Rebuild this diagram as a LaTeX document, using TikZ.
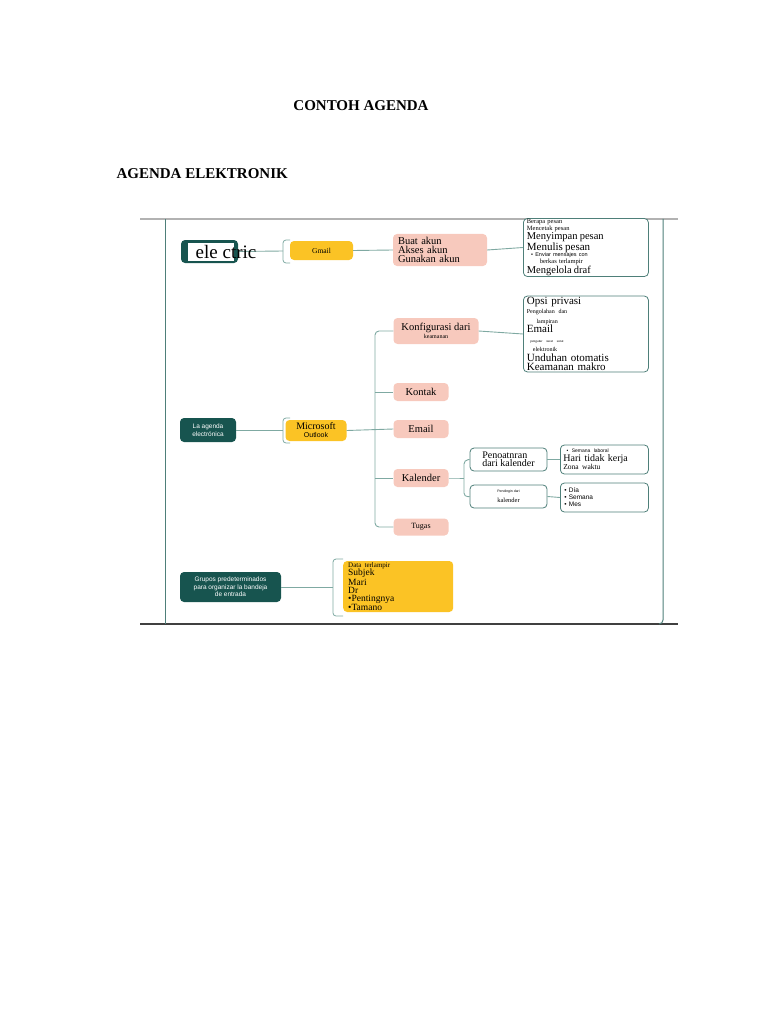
\documentclass[tikz,border=0pt]{standalone}
\usepackage{fontspec}
\setmainfont{Liberation Serif}
\newfontfamily\sans{Liberation Sans}
\definecolor{dk}{HTML}{17544F}
\definecolor{yl}{HTML}{FBC325}
\definecolor{pk}{HTML}{F7C9BD}
\definecolor{ln}{HTML}{7FA9A2}
\definecolor{bd}{HTML}{4E7F79}
\begin{document}
\begin{tikzpicture}[x=1pt,y=-1pt,
 box/.style={rounded corners=4pt,inner sep=1pt,align=center},
 dkb/.style={box,fill=dk,text=white,font=\sans\fontsize{6.5}{7.5}\selectfont},
 ylb/.style={box,fill=yl,font=\fontsize{9}{9}\selectfont},
 pkb/.style={box,fill=pk,font=\fontsize{10.5}{10.5}\selectfont},
 wtb/.style={box,draw=bd,line width=0.8pt,fill=white,align=left,font=\fontsize{9}{9}\selectfont},
 con/.style={draw=ln,line width=0.9pt},
 brk/.style={draw=ln,line width=0.8pt,rounded corners=3pt}]
\useasboundingbox (0,0) rectangle (768,1024);
\node[font=\bfseries\fontsize{15}{15}\selectfont] (t1) at (361,106) {CONTOH AGENDA};
\node[font=\bfseries\fontsize{15}{15}\selectfont,anchor=west] (t2) at (113,174) {AGENDA ELEKTRONIK};
% frame
\draw[gray!60,line width=1.5pt] (140,219) -- (678,219);
\draw[black!75,line width=1.5pt] (140,624) -- (678,624);
\draw[bd,line width=1pt] (165,219) -- (165,624);
\draw[bd,line width=1pt] (663,219) -- (663,620) to[out=-90,in=0] (659,624);
% row 1
\node[box,fill=dk,minimum width=57pt,minimum height=23pt] (ec) at (209.5,251.5) {};
\fill[white] (188,243) rectangle (234,261);
\draw[con] (ec.east) -- (283,251);
\node[font=\fontsize{19}{19}\selectfont,inner sep=0pt] (ect) at (226,252) {ele ctric};
\node[ylb,minimum width=63pt,minimum height=19pt,font=\fontsize{7.5}{7.5}\selectfont] (gm) at (321.5,250.5) {Gmail};
\draw[brk] (290,240) -| (283,263) -- (290,263);
\node[pkb,minimum width=94pt,minimum height=32pt,font=\fontsize{10.5}{9}\selectfont,align=left,text width=84pt] (ba) at (440,250) {Buat akun\\Akses akun\\Gunakan akun};
\draw[con] (gm.east) -- (ba.west);
\node[wtb,minimum width=125pt,minimum height=57pt,font=\fontsize{6.5}{6.5}\selectfont,anchor=west,text width=118pt] (l1) at (523,247.5) {Berapa pesan\\Mencetak pesan\\{\fontsize{10.5}{8}\selectfont Menyimpan pesan}\\{\fontsize{11}{9}\selectfont Menulis pesan}\\\ \ {\sans\fontsize{5.5}{5.5}\selectfont • Enviar mensajes con}\\\qquad berkas terlampir\\{\fontsize{10.5}{9}\selectfont Mengelola draf}};
\draw[con] (ba.east) -- (l1.west);
% Outlook branch
\node[dkb,minimum width=56pt,minimum height=24pt] (la) at (208,430) {La agenda\\electrónica};
\draw[brk] (290,418) -| (283,443) -- (290,443);
\draw[con] (la.east) -- (283,430);
\node[ylb,minimum width=61pt,minimum height=21pt,font=\fontsize{10}{8}\selectfont] (ms) at (316,430.5) {Microsoft\\{\sans\fontsize{7}{7}\selectfont Outlook}};
\node[pkb,minimum width=85pt,minimum height=26pt,font=\fontsize{10.5}{8}\selectfont] (kf) at (436,331) {Konfigurasi dari\\{\fontsize{6}{6}\selectfont keamanan}};
\node[pkb,minimum width=55pt,minimum height=18pt] (ko) at (421,392) {Kontak};
\node[pkb,minimum width=55pt,minimum height=18pt] (em) at (421,429) {Email};
\node[pkb,minimum width=55pt,minimum height=18pt] (ka) at (421,478) {Kalender};
\node[pkb,minimum width=55pt,minimum height=17pt,font=\fontsize{8}{8}\selectfont] (tg) at (421,527) {Tugas};
\draw[con] (ms.east) -- (em.west);
\draw[con,rounded corners=4pt] (kf.west) -| (375,527) -- (tg.west);
\draw[con] (375,392) -- (ko.west);
\draw[con] (375,478) -- (ka.west);
\node[wtb,minimum width=125pt,minimum height=64pt,font=\fontsize{11}{9.5}\selectfont,anchor=west,text width=118pt] (l2) at (523,334) {Opsi privasi\\{\fontsize{6}{6}\selectfont Pengolahan dan}\\{\fontsize{6}{6}\selectfont\quad\ lampiran}\\Email\\{\fontsize{3.5}{3.5}\selectfont\quad pengatur surat surat\ }\\{\fontsize{6}{6}\selectfont\quad elektronik}\\Unduhan otomatis\\Keamanan makro};
\draw[con] (kf.east) -- (l2.west);
% Kalender sub
\node[wtb,minimum width=77pt,minimum height=23pt,font=\fontsize{10}{8.5}\selectfont] (pe) at (508.5,459.5) {Penoatnran\\dari kalender};
\node[wtb,minimum width=77pt,minimum height=23pt,font=\fontsize{6.5}{6.5}\selectfont] (pk2) at (508.5,496.5) {{\sans\fontsize{3.5}{4}\selectfont Pendingin dari}\\[3pt]kalender};
\draw[con] (ka.east) -- (456,478) -- (464,478);
\draw[con,rounded corners=4pt] (pe.west) -- (464,460) -- (464,497) -- (pk2.west);
\node[wtb,minimum width=88pt,minimum height=29pt,font=\fontsize{10}{8.5}\selectfont,anchor=west,text width=82pt] (l3) at (560,459.5) {\ {\sans\fontsize{5}{5}\selectfont • Semana laboral}\\Hari tidak kerja\\{\fontsize{7.5}{7.5}\selectfont Zona waktu}};
\node[wtb,minimum width=88pt,minimum height=29pt,font=\sans\fontsize{6.5}{7}\selectfont,anchor=west,text width=80pt] (l4) at (560,497.5) {• Día\\• Semana\\• Mes};
\draw[con] (pe.east) -- (l3.west);
\draw[con] (pk2.east) -- (l4.west);
% Grupos
\node[dkb,minimum width=101pt,minimum height=30pt] (gr) at (230.5,587) {Grupos predeterminados\\para organizar la bandeja\\de entrada};
\draw[brk] (343,559) -| (333,616) -- (343,616);
\draw[con] (gr.east) -- (333,587);
\node[ylb,minimum width=110pt,minimum height=51pt,font=\fontsize{9.5}{8.3}\selectfont,align=left,anchor=west,text width=100pt] (dt) at (343,586.5) {{\fontsize{7}{7}\selectfont Data terlampir}\\Subjek\\Mari\\Dr\\•Pentingnya\\•Tamano};
\end{tikzpicture}
\end{document}
